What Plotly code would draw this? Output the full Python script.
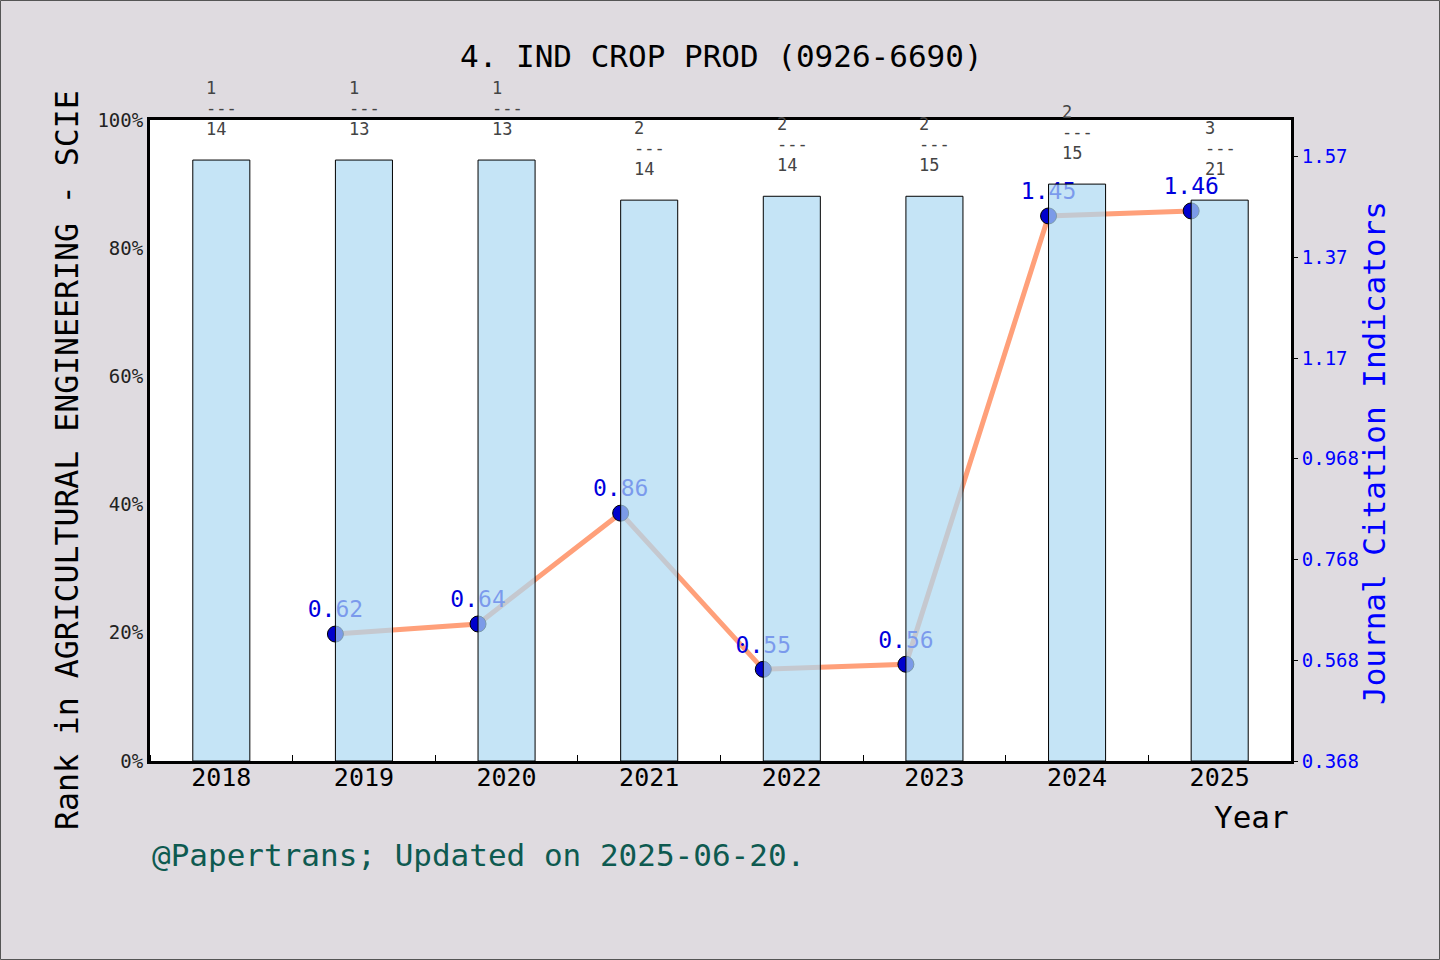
import plotly.graph_objects as go

years = ["2018", "2019", "2020", "2021", "2022", "2023", "2024", "2025"]
rank_pct = [0.9375, 0.9375, 0.9375, 0.875, 0.881, 0.881, 0.90, 0.875]
rank_num = ["1", "1", "1", "2", "2", "2", "2", "3"]
rank_den = ["14", "13", "13", "14", "14", "15", "15", "21"]

jci_years = ["2019", "2020", "2021", "2022", "2023", "2024", "2025"]
jci_vals = [0.62, 0.64, 0.86, 0.55, 0.56, 1.45, 1.46]
jci_labels = ["0.62", "0.64", "0.86", "0.55", "0.56", "1.45", "1.46"]

jci_ticks = [0.368, 0.568, 0.768, 0.968, 1.168, 1.368, 1.568]
jci_ticktext = ["0.368", "0.568", "0.768", "0.968", "1.17", "1.37", "1.57"]
pct_ticks = [0, 0.2, 0.4, 0.6, 0.8, 1.0]
pct_ticktext = ["0%", "20%", "40%", "60%", "80%", "100%"]

MONO = "DejaVu Sans Mono"
BAR_W = 0.4
LINE_SHIFT = -BAR_W / 2  # line points sit at left edge of each bar

xpos = {y: i for i, y in enumerate(years)}
bar_x = [xpos[y] for y in years]
line_x = [xpos[y] + LINE_SHIFT for y in jci_years]

fig = go.Figure()

# JCI line (primary y, right side) drawn first so bars overlay it
fig.add_trace(go.Scatter(
    x=line_x, y=jci_vals, yaxis="y",
    mode="lines+markers+text",
    line=dict(color="#FFA07A", width=5),
    marker=dict(color="#0000CD", size=16, line=dict(color="black", width=1)),
    text=jci_labels, textposition="top center",
    textfont=dict(family=MONO, size=23, color="#0000DD"),
    cliponaxis=False, showlegend=False,
))

# Rank bars (overlaying axis, left side)
fig.add_trace(go.Bar(
    x=bar_x, y=rank_pct, yaxis="y2", width=BAR_W,
    marker=dict(color="rgba(173,217,243,0.71)", line=dict(color="black", width=1)),
    showlegend=False,
))

annotations = []
for bx, v, n, d in zip(bar_x, rank_pct, rank_num, rank_den):
    for txt, sh in ((n, 72), ("---", 52), (d, 31)):
        annotations.append(dict(
            x=bx, y=v, xref="x", yref="y2", text=txt, showarrow=False,
            xanchor="left", yanchor="middle", xshift=-17, yshift=sh,
            font=dict(family=MONO, size=17, color="#444444"),
        ))

W, L, R, T, B = 1440, 150, 149, 120, 199
pw, ph = W - L - R, 960 - T - B


def px(xp):
    return (xp - L) / pw


def py(yp):
    return (960 - B - yp) / ph


annotations += [
    dict(x=px(721.5), y=py(56), xref="paper", yref="paper", showarrow=False,
         text="4. IND CROP PROD (0926-6690)", xanchor="center", yanchor="middle",
         font=dict(family=MONO, size=31, color="black")),
    dict(x=px(67), y=py(460), xref="paper", yref="paper", showarrow=False,
         text="Rank in AGRICULTURAL ENGINEERING - SCIE", textangle=-90,
         xanchor="center", yanchor="middle",
         font=dict(family=MONO, size=31.5, color="black")),
    dict(x=px(1374), y=py(453), xref="paper", yref="paper", showarrow=False,
         text="Journal Citation Indicators", textangle=-90,
         xanchor="center", yanchor="middle",
         font=dict(family=MONO, size=31, color="#0000FF")),
    dict(x=1, y=py(817), xref="paper", yref="paper", showarrow=False,
         text="Year", xanchor="right", yanchor="middle",
         font=dict(family=MONO, size=31, color="black")),
    dict(x=0, y=py(855), xref="paper", yref="paper", showarrow=False,
         text="@Papertrans; Updated on 2025-06-20.", xanchor="left", yanchor="middle",
         font=dict(family=MONO, size=31, color="#0E5A50")),
]

fig.update_layout(
    width=1440, height=960,
    margin=dict(l=L, r=R, t=T, b=B, autoexpand=False),
    paper_bgcolor="#DFDBE0", plot_bgcolor="white",
    annotations=annotations,
    xaxis=dict(
        type="linear", range=[-0.5, len(years) - 0.5],
        tickvals=bar_x, ticktext=years, ticks="",
        minor=dict(ticks="inside", tick0=0.5, dtick=1, ticklen=6,
                   tickcolor="black", showgrid=False),
        showline=True, linecolor="black", linewidth=3, mirror=True,
        showgrid=False, zeroline=False, ticklabelstandoff=-8,
        tickfont=dict(family=MONO, size=25, color="black"),
    ),
    yaxis=dict(
        side="right", range=[0.368, 1.6405], tickvals=jci_ticks, ticktext=jci_ticktext,
        showline=True, linecolor="black", linewidth=3, ticks="outside", ticklen=4,
        tickcolor="black", showgrid=False, zeroline=False,
        tickfont=dict(family=MONO, size=19, color="#0000FF"),
    ),
    yaxis2=dict(
        overlaying="y", side="left", range=[0, 1], tickvals=pct_ticks,
        ticktext=pct_ticktext, showline=True, linecolor="black", linewidth=3,
        showgrid=False, zeroline=False, ticks="",
        tickfont=dict(family=MONO, size=19, color="#222222"),
    ),
    shapes=[dict(type="rect", xref="paper", yref="paper",
                 x0=px(0.5), x1=px(1439.5), y0=py(959.5), y1=py(0.5),
                 line=dict(color="#555555", width=1), layer="below")],
)

fig.write_html("out.html")
